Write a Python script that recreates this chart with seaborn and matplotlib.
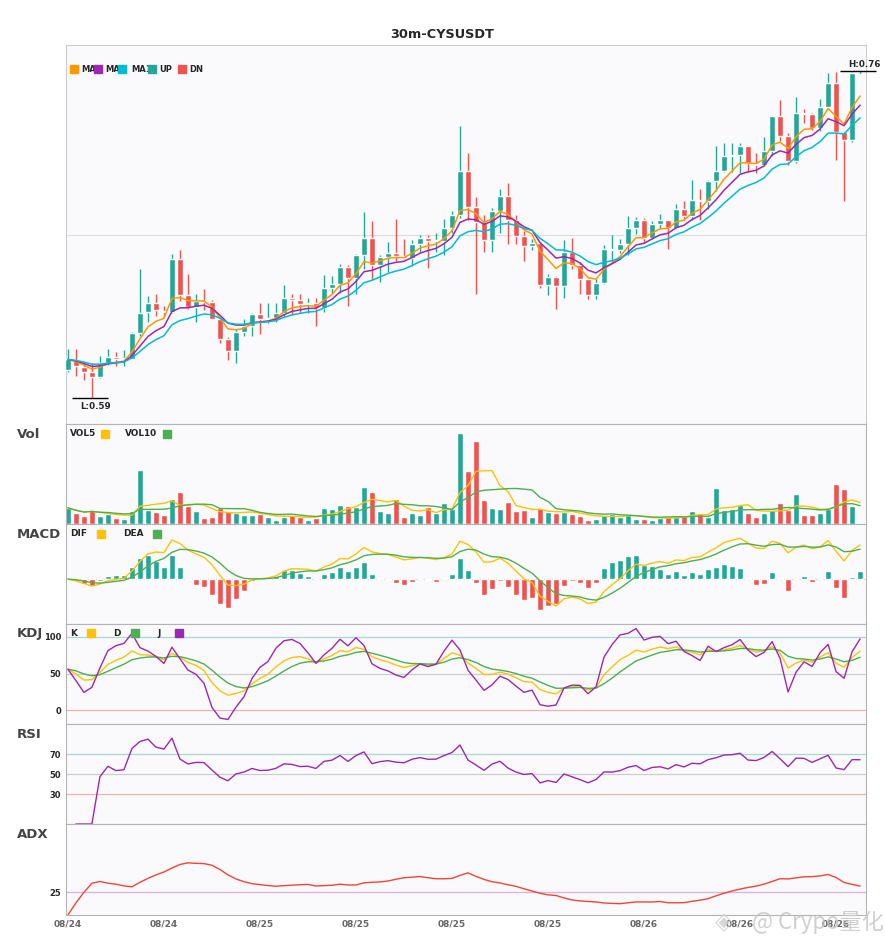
import numpy as np
import pandas as pd
import matplotlib
matplotlib.use('Agg')
import matplotlib.pyplot as plt
from matplotlib.patches import Rectangle
import seaborn as sns

# 30m candles
symbol = '30m-CYSUSDT'
start_time = '2024-08-24 12:00'

open_ = [0.6054, 0.6106, 0.6071, 0.6047, 0.6018, 0.6089, 0.6123, 0.6110, 0.6113, 0.6245,
         0.6356, 0.6404, 0.6363, 0.6356, 0.6633, 0.6443, 0.6384, 0.6413, 0.6411, 0.6321,
         0.6214, 0.6153, 0.6255, 0.6286, 0.6347, 0.6318, 0.6323, 0.6352, 0.6427, 0.6420,
         0.6396, 0.6401, 0.6378, 0.6484, 0.6505, 0.6592, 0.6533, 0.6651, 0.6744, 0.6599,
         0.6644, 0.6665, 0.6647, 0.6639, 0.6708, 0.6743, 0.6725, 0.6727, 0.6796, 0.6864,
         0.7093, 0.6902, 0.6824, 0.6731, 0.6880, 0.6958, 0.6833, 0.6751, 0.6699, 0.6718,
         0.6495, 0.6541, 0.6491, 0.6671, 0.6602, 0.6529, 0.6444, 0.6510, 0.6678, 0.6680,
         0.6713, 0.6796, 0.6838, 0.6744, 0.6817, 0.6833, 0.6795, 0.6894, 0.6855, 0.6942,
         0.6933, 0.7036, 0.7088, 0.7170, 0.7176, 0.7218, 0.7128, 0.7123, 0.7197, 0.7374,
         0.7270, 0.7142, 0.7390, 0.7386, 0.7315, 0.7426, 0.7549, 0.7293, 0.7254, 0.7591]
high = [0.6162, 0.6162, 0.6096, 0.6089, 0.6130, 0.6162, 0.6149, 0.6158, 0.6252, 0.6578,
        0.6439, 0.6453, 0.6387, 0.6661, 0.6677, 0.6557, 0.6453, 0.6477, 0.6417, 0.6330,
        0.6227, 0.6266, 0.6318, 0.6352, 0.6404, 0.6401, 0.6401, 0.6495, 0.6453, 0.6453,
        0.6429, 0.6430, 0.6547, 0.6543, 0.6609, 0.6602, 0.6661, 0.6875, 0.6829, 0.6651,
        0.6720, 0.6843, 0.6737, 0.6729, 0.6758, 0.6758, 0.6769, 0.6842, 0.6883, 0.7327,
        0.7185, 0.6953, 0.6859, 0.6899, 0.6999, 0.7029, 0.6859, 0.6776, 0.6739, 0.6720,
        0.6557, 0.6543, 0.6729, 0.6744, 0.6616, 0.6533, 0.6529, 0.6703, 0.6755, 0.6734,
        0.6855, 0.6852, 0.6848, 0.6829, 0.6869, 0.6836, 0.6921, 0.6935, 0.7046, 0.6999,
        0.7046, 0.7220, 0.7237, 0.7234, 0.7234, 0.7220, 0.7182, 0.7265, 0.7379, 0.7459,
        0.7289, 0.7476, 0.7414, 0.7393, 0.7466, 0.7598, 0.7607, 0.7296, 0.7607, 0.7610]
low = [0.6044, 0.6026, 0.6005, 0.5910, 0.6012, 0.6083, 0.6075, 0.6075, 0.6110, 0.6231,
       0.6304, 0.6335, 0.6332, 0.6352, 0.6413, 0.6370, 0.6304, 0.6366, 0.6318, 0.6193,
       0.6106, 0.6092, 0.6231, 0.6234, 0.6240, 0.6300, 0.6304, 0.6332, 0.6342, 0.6352,
       0.6349, 0.6286, 0.6356, 0.6456, 0.6456, 0.6387, 0.6453, 0.6578, 0.6522, 0.6512,
       0.6564, 0.6621, 0.6630, 0.6595, 0.6665, 0.6585, 0.6671, 0.6651, 0.6769, 0.6847,
       0.6838, 0.6448, 0.6671, 0.6671, 0.6769, 0.6710, 0.6710, 0.6621, 0.6678, 0.6481,
       0.6443, 0.6370, 0.6429, 0.6578, 0.6449, 0.6425, 0.6422, 0.6505, 0.6616, 0.6665,
       0.6651, 0.6765, 0.6717, 0.6734, 0.6793, 0.6687, 0.6789, 0.6838, 0.6838, 0.6838,
       0.6895, 0.6984, 0.7084, 0.7084, 0.7081, 0.7084, 0.7081, 0.7116, 0.7168, 0.7244,
       0.7121, 0.7130, 0.7341, 0.7306, 0.7298, 0.7419, 0.7147, 0.6932, 0.7241, 0.7589]
close = [0.6110, 0.6075, 0.6044, 0.6018, 0.6089, 0.6123, 0.6110, 0.6113, 0.6245, 0.6352,
         0.6404, 0.6366, 0.6356, 0.6633, 0.6443, 0.6384, 0.6413, 0.6411, 0.6321, 0.6214,
         0.6153, 0.6255, 0.6286, 0.6347, 0.6318, 0.6323, 0.6352, 0.6427, 0.6420, 0.6396,
         0.6401, 0.6378, 0.6484, 0.6505, 0.6592, 0.6533, 0.6651, 0.6744, 0.6599, 0.6644,
         0.6665, 0.6647, 0.6639, 0.6708, 0.6743, 0.6725, 0.6727, 0.6796, 0.6864, 0.7093,
         0.6902, 0.6824, 0.6731, 0.6880, 0.6958, 0.6833, 0.6751, 0.6699, 0.6718, 0.6495,
         0.6541, 0.6491, 0.6671, 0.6602, 0.6529, 0.6444, 0.6510, 0.6682, 0.6680, 0.6713,
         0.6796, 0.6838, 0.6744, 0.6817, 0.6833, 0.6795, 0.6894, 0.6855, 0.6942, 0.6933,
         0.7036, 0.7088, 0.7166, 0.7176, 0.7218, 0.7130, 0.7123, 0.7197, 0.7374, 0.7270,
         0.7142, 0.7390, 0.7386, 0.7315, 0.7426, 0.7549, 0.7293, 0.7254, 0.7598, 0.7596]
# volume in thousands
volume = [48, 34, 25, 43, 25, 30, 19, 16, 40, 160, 43, 37, 28, 76, 94, 55, 40, 19, 22, 49,
          40, 34, 28, 28, 30, 22, 13, 22, 28, 22, 13, 19, 49, 46, 58, 55, 52, 109, 94, 40,
          34, 76, 22, 34, 28, 52, 34, 64, 46, 271, 157, 247, 73, 49, 46, 67, 40, 43, 22, 49,
          37, 34, 37, 31, 25, 13, 16, 28, 31, 22, 28, 16, 16, 13, 19, 22, 22, 25, 40, 31,
          22, 106, 43, 46, 58, 34, 22, 34, 43, 64, 43, 88, 28, 28, 34, 46, 118, 103, 55, 1]

ma_spans = [5, 8, 13]
UP = '#26a69a'
DN = '#ef5350'

df = pd.DataFrame({'open': open_, 'high': high, 'low': low, 'close': close, 'volume': volume})
df['time'] = pd.date_range(start_time, periods=len(df), freq='30min')
n = len(df)
x = np.arange(n)
c = df['close']

# indicators
mas = [c.ewm(span=s, adjust=False).mean() for s in ma_spans]
vol5 = df['volume'].rolling(5, min_periods=1).mean()
vol10 = df['volume'].rolling(10, min_periods=1).mean()

dif = c.ewm(span=6, adjust=False).mean() - c.ewm(span=13, adjust=False).mean()
dea = dif.ewm(span=5, adjust=False).mean()
macd = 2 * (dif - dea)

llv = df['low'].rolling(9, min_periods=1).min()
hhv = df['high'].rolling(9, min_periods=1).max()
rsv = (c - llv) / (hhv - llv) * 100
k = rsv.ewm(com=2, adjust=False).mean()
d = k.ewm(com=2, adjust=False).mean()
j = 3 * k - 2 * d

delta = c.diff()
gain = delta.clip(lower=0).ewm(com=13).mean()
loss = (-delta.clip(upper=0)).ewm(com=13).mean()
rsi = 100 * gain / (gain + loss)

up_move = df['high'].diff()
dn_move = -df['low'].diff()
plus_dm = pd.Series(np.where((up_move > dn_move) & (up_move > 0), up_move, 0.0))
minus_dm = pd.Series(np.where((dn_move > up_move) & (dn_move > 0), dn_move, 0.0))
prev_c = c.shift()
tr = pd.concat([df['high'] - df['low'], (df['high'] - prev_c).abs(),
                (df['low'] - prev_c).abs()], axis=1).max(axis=1)
atr = tr.ewm(alpha=1 / 14, adjust=False).mean()
pdi = 100 * plus_dm.ewm(alpha=1 / 14, adjust=False).mean() / atr
mdi = 100 * minus_dm.ewm(alpha=1 / 14, adjust=False).mean() / atr
dx = (100 * (pdi - mdi).abs() / (pdi + mdi)).fillna(0)
adx = dx.ewm(span=14, adjust=False).mean()

# ---- figure ----
sns.set_theme(style='white')
plt.rcParams['font.family'] = ['DejaVu Sans', 'Noto Sans CJK SC']

W, H = 885, 950
fig = plt.figure(figsize=(W / 100, H / 100), dpi=100)
fig.patch.set_facecolor('white')


def px_axes(top, bottom):
    return [65.5 / W, 1 - bottom / H, 800.2 / W, (bottom - top) / H]


ax = fig.add_axes(px_axes(45, 424))
ax_vol = fig.add_axes(px_axes(424, 524), sharex=ax)
ax_macd = fig.add_axes(px_axes(524, 624), sharex=ax)
ax_kdj = fig.add_axes(px_axes(624, 724), sharex=ax)
ax_rsi = fig.add_axes(px_axes(724, 824), sharex=ax)
ax_adx = fig.add_axes(px_axes(824, 915), sharex=ax)
panels = [ax, ax_vol, ax_macd, ax_kdj, ax_rsi, ax_adx]

for a in panels:
    a.set_facecolor('#fafafc')
    for s in a.spines.values():
        s.set_color('#b4b4b4')
        s.set_linewidth(0.8)
    a.tick_params(length=0, pad=3, labelsize=6)
    a.set_xlim(-0.3, n - 0.3)
for s in ax.spines.values():
    s.set_color('#cccccc')

colors = np.where(df['close'] >= df['open'], UP, DN)

# candles
rng = df['high'].max() - df['low'].min()
body_lo = np.minimum(df['open'], df['close'])
body_h = np.maximum((df['close'] - df['open']).abs(), rng * 0.003)
ax.vlines(x, df['low'], df['high'], colors=colors, lw=1, zorder=2)
ax.bar(x, body_h, bottom=body_lo, width=0.75, color=colors, zorder=3)
for ma, col in zip(mas, ['#ff9800', '#9c27b0', '#00bcd4']):
    sns.lineplot(x=x, y=ma, ax=ax, color=col, lw=1.1, zorder=4)
lo, hi = df['low'].min(), df['high'].max()
ax.set_ylim(lo - 0.08 * rng, hi + 0.08 * rng)
ax.set_yticks([(lo + hi) / 2])
ax.yaxis.grid(True, color='#dddddd', lw=0.8)
ax.set_yticklabels([])

i_lo, i_hi = int(df['low'].idxmin()), int(df['high'].idxmax())
ax.hlines(lo, i_lo - 2.5, i_lo + 2, color='black', lw=1, clip_on=False, zorder=5)
ax.hlines(hi, i_hi - 2.5, i_hi + 2, color='black', lw=1, clip_on=False, zorder=5)
ax.annotate(f'L:{lo:.2f}', (i_lo - 1.5, lo), xytext=(0, -3), textcoords='offset points',
            ha='left', va='top', fontsize=6.3, fontweight='bold')
ax.annotate(f'H:{hi:.2f}', (i_hi - 1.5, hi), xytext=(0, 1.5), textcoords='offset points',
            ha='left', va='bottom', fontsize=6.3, fontweight='bold', annotation_clip=False)

# volume
ax_vol.bar(x, df['volume'], width=0.75, color=colors)
sns.lineplot(x=x, y=vol5, ax=ax_vol, color='#ffc107', lw=1)
sns.lineplot(x=x, y=vol10, ax=ax_vol, color='#4caf50', lw=1)
ax_vol.set_ylim(0, df['volume'].max() * 1.1)
ax_vol.set_yticks([])

# macd
ax_macd.bar(x, macd, width=0.75, color=np.where(macd >= 0, UP, DN))
ax_macd.axhline(0, color='#d6d6d6', lw=0.8, zorder=0)
sns.lineplot(x=x, y=dif, ax=ax_macd, color='#ffc107', lw=1)
sns.lineplot(x=x, y=dea, ax=ax_macd, color='#4caf50', lw=1)
ax_macd.margins(y=0.2)
ax_macd.set_yticks([])

# kdj
for lvl, col in [(100, '#a5d9d2'), (50, '#cccccc'), (0, '#f5b0b0')]:
    ax_kdj.axhline(lvl, color=col, lw=0.9, zorder=0)
sns.lineplot(x=x, y=k, ax=ax_kdj, color='#ffc107', lw=1)
sns.lineplot(x=x, y=d, ax=ax_kdj, color='#4caf50', lw=1)
sns.lineplot(x=x, y=j, ax=ax_kdj, color='#9c27b0', lw=1)
ax_kdj.set_yticks([0, 50, 100])

# rsi
for lvl, col in [(70, '#a5d9d2'), (50, '#cccccc'), (30, '#f5b0b0')]:
    ax_rsi.axhline(lvl, color=col, lw=0.9, zorder=0)
sns.lineplot(x=x, y=rsi, ax=ax_rsi, color='#9c27b0', lw=1)
ax_rsi.set_ylim(0, 100)
ax_rsi.set_yticks([30, 50, 70])

# adx
ax_adx.axhline(25, color='#dcaee4', lw=0.9, zorder=0)
sns.lineplot(x=x, y=adx, ax=ax_adx, color='#f44336', lw=1)
ax_adx.set_ylim(0, 100)
ax_adx.set_yticks([25])

for a in [ax_kdj, ax_rsi, ax_adx]:
    for t in a.get_yticklabels():
        t.set_fontweight('bold')
for a in panels:
    a.set_ylabel('')
    a.set_xlabel('')
    if a is not ax_adx:
        a.tick_params(labelbottom=False)

ticks = x[::12]
ax_adx.set_xticks(ticks)
ax_adx.set_xticklabels(df['time'].dt.strftime('%m/%d').iloc[ticks], fontsize=6.5,
                       fontweight='bold', color='#666666')

# titles and keys
fig.text(0.5, 1 - 34 / H, symbol, ha='center', va='center', fontsize=9.3, fontweight='bold')
for name, y in [('Vol', 434), ('MACD', 535), ('KDJ', 634), ('RSI', 735), ('ADX', 835)]:
    fig.text(17 / W, 1 - y / H, name, ha='left', va='center', fontsize=9.5,
             fontweight='bold', color='#444444')


def key_row(items, y, size=6.4):
    for label, color, box_x, text_x in items:
        fig.add_artist(Rectangle((box_x / W, 1 - (y + 4) / H), 8 / W, 8 / H,
                                 transform=fig.transFigure, color=color, zorder=4))
        fig.text(text_x / W, 1 - y / H, label, ha='left', va='center', fontsize=size,
                 fontweight='bold', zorder=3)


key_row([('MA5', '#ff9800', 70, 81), ('MA8', '#9c27b0', 94, 105), ('MA13', '#00bcd4', 118, 131),
         ('UP', UP, 148, 159), ('DN', DN, 178, 189)], 69, size=6.0)
key_row([('VOL5', '#ffc107', 101, 70), ('VOL10', '#4caf50', 163, 125)], 434)
key_row([('DIF', '#ffc107', 97, 70), ('DEA', '#4caf50', 153, 123)], 534)
key_row([('K', '#ffc107', 87, 70), ('D', '#4caf50', 131, 113), ('J', '#9c27b0', 175, 157)], 633)

# source watermark
fig.text(724 / W, 1 - 922 / H, '◈', ha='center', va='center', fontsize=17,
         color='#cfcfcf', alpha=0.8, zorder=10)
fig.text(884 / W, 1 - 922 / H, '@ Crypo量化', ha='right', va='center', fontsize=16,
         color='#c4c4c4', alpha=0.8, family=['Noto Sans CJK SC', 'DejaVu Sans'], zorder=10)

fig.savefig('out.png', dpi=100, facecolor='white')
